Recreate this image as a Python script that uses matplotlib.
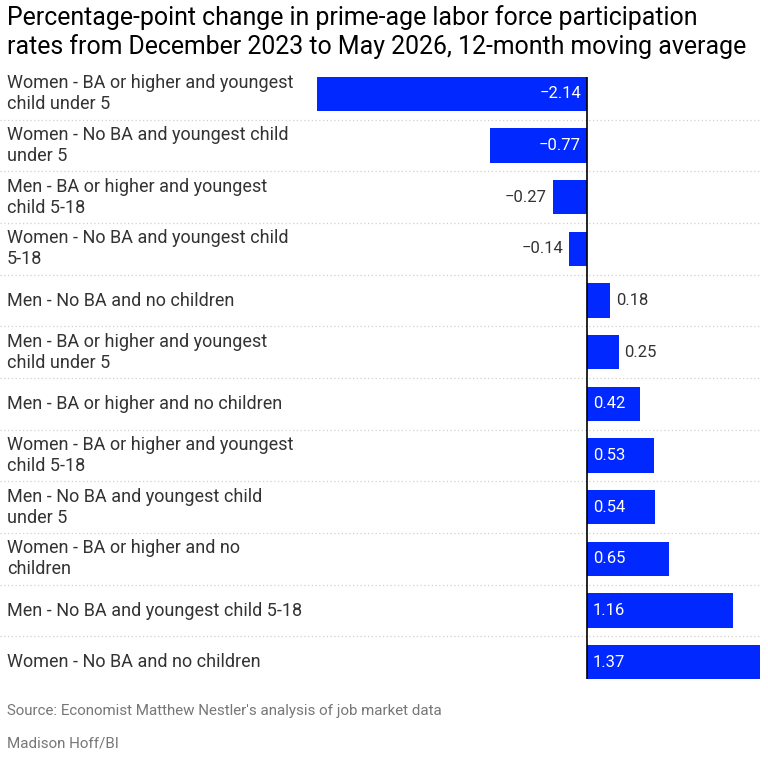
import matplotlib.pyplot as plt
import matplotlib.transforms as mtransforms

labels = [
    'Women - BA or higher and youngest\nchild under 5',
    'Women - No BA and youngest child\nunder 5',
    'Men - BA or higher and youngest\nchild 5-18',
    'Women - No BA and youngest child\n5-18',
    'Men - No BA and no children',
    'Men - BA or higher and youngest\nchild under 5',
    'Men - BA or higher and no children',
    'Women - BA or higher and youngest\nchild 5-18',
    'Men - No BA and youngest child\nunder 5',
    'Women - BA or higher and no\nchildren',
    'Men - No BA and youngest child 5-18',
    'Women - No BA and no children',
]
values = [-2.14, -0.77, -0.27, -0.14, 0.18, 0.25, 0.42, 0.53, 0.54, 0.65, 1.16, 1.37]

blue = '#0028ff'
text_col = '#333333'
plt.rcParams['font.family'] = ['Roboto', 'DejaVu Sans']

fig = plt.figure(figsize=[7.68, 7.57], dpi=100)
W, H = 768, 757

# axes spans full width; zero line at x=587 px, 1.37 ends at 760 px
px_per_unit = (587 - 317) / 2.14
xmin = -587 / px_per_unit
xmax = (768 - 587) / px_per_unit
top_px, bot_px = 68, 688
ax = fig.add_axes([0, 1 - bot_px / H, 1, (bot_px - top_px) / H])
ax.set_xlim(xmin, xmax)
ax.set_ylim(len(values) - 0.5, -0.5)
ax.axis('off')

ypos = list(range(len(values)))
ax.barh(ypos, values, height=0.66, color=blue, zorder=2)
ax.vlines(0, -0.33, len(values) - 1 + 0.33, color='black', linewidth=1.2, zorder=3)

# dotted separators between rows
trans = mtransforms.blended_transform_factory(ax.transAxes, ax.transData)
sep_right = 760 / W
for i in range(len(values) - 1):
    ax.plot([0, sep_right], [i + 0.5, i + 0.5], transform=trans,
            color='#d0d0d0', linestyle=(0, (1, 2)), linewidth=0.9, zorder=1)

for y, lab in zip(ypos, labels):
    ax.text(7 / W, y, lab, transform=trans, ha='left', va='center',
            fontsize=13, color=text_col, linespacing=1.22)

off = 6 / px_per_unit
for y, v in zip(ypos, values):
    txt = '\u2212{:.2f}'.format(-v) if v < 0 else '{:.2f}'.format(v)
    if abs(v) >= 0.4:
        if v < 0:
            ax.text(-off, y, txt, ha='right', va='center', fontsize=12, color='white', zorder=4)
        else:
            ax.text(off, y, txt, ha='left', va='center', fontsize=12, color='white', zorder=4)
    else:
        if v < 0:
            ax.text(v - off, y, txt, ha='right', va='center', fontsize=12, color=text_col, zorder=4)
        else:
            ax.text(v + off, y, txt, ha='left', va='center', fontsize=12, color=text_col, zorder=4)

fig.text(7 / W, 1 - 32 / H, 'Percentage-point change in prime-age labor force participation\n'
         'rates from December 2023 to May 2026, 12-month moving average',
         ha='left', va='center', fontsize=17.9, color='black', linespacing=1.2)

fig.text(7 / W, 1 - 711 / H, "Source: Economist Matthew Nestler's analysis of job market data",
         ha='left', va='center', fontsize=10.9, color='#777777')
fig.text(7 / W, 1 - 743 / H, 'Madison Hoff/BI', ha='left', va='center', fontsize=10.9, color='#777777')

fig.savefig('out.png', dpi=100)
